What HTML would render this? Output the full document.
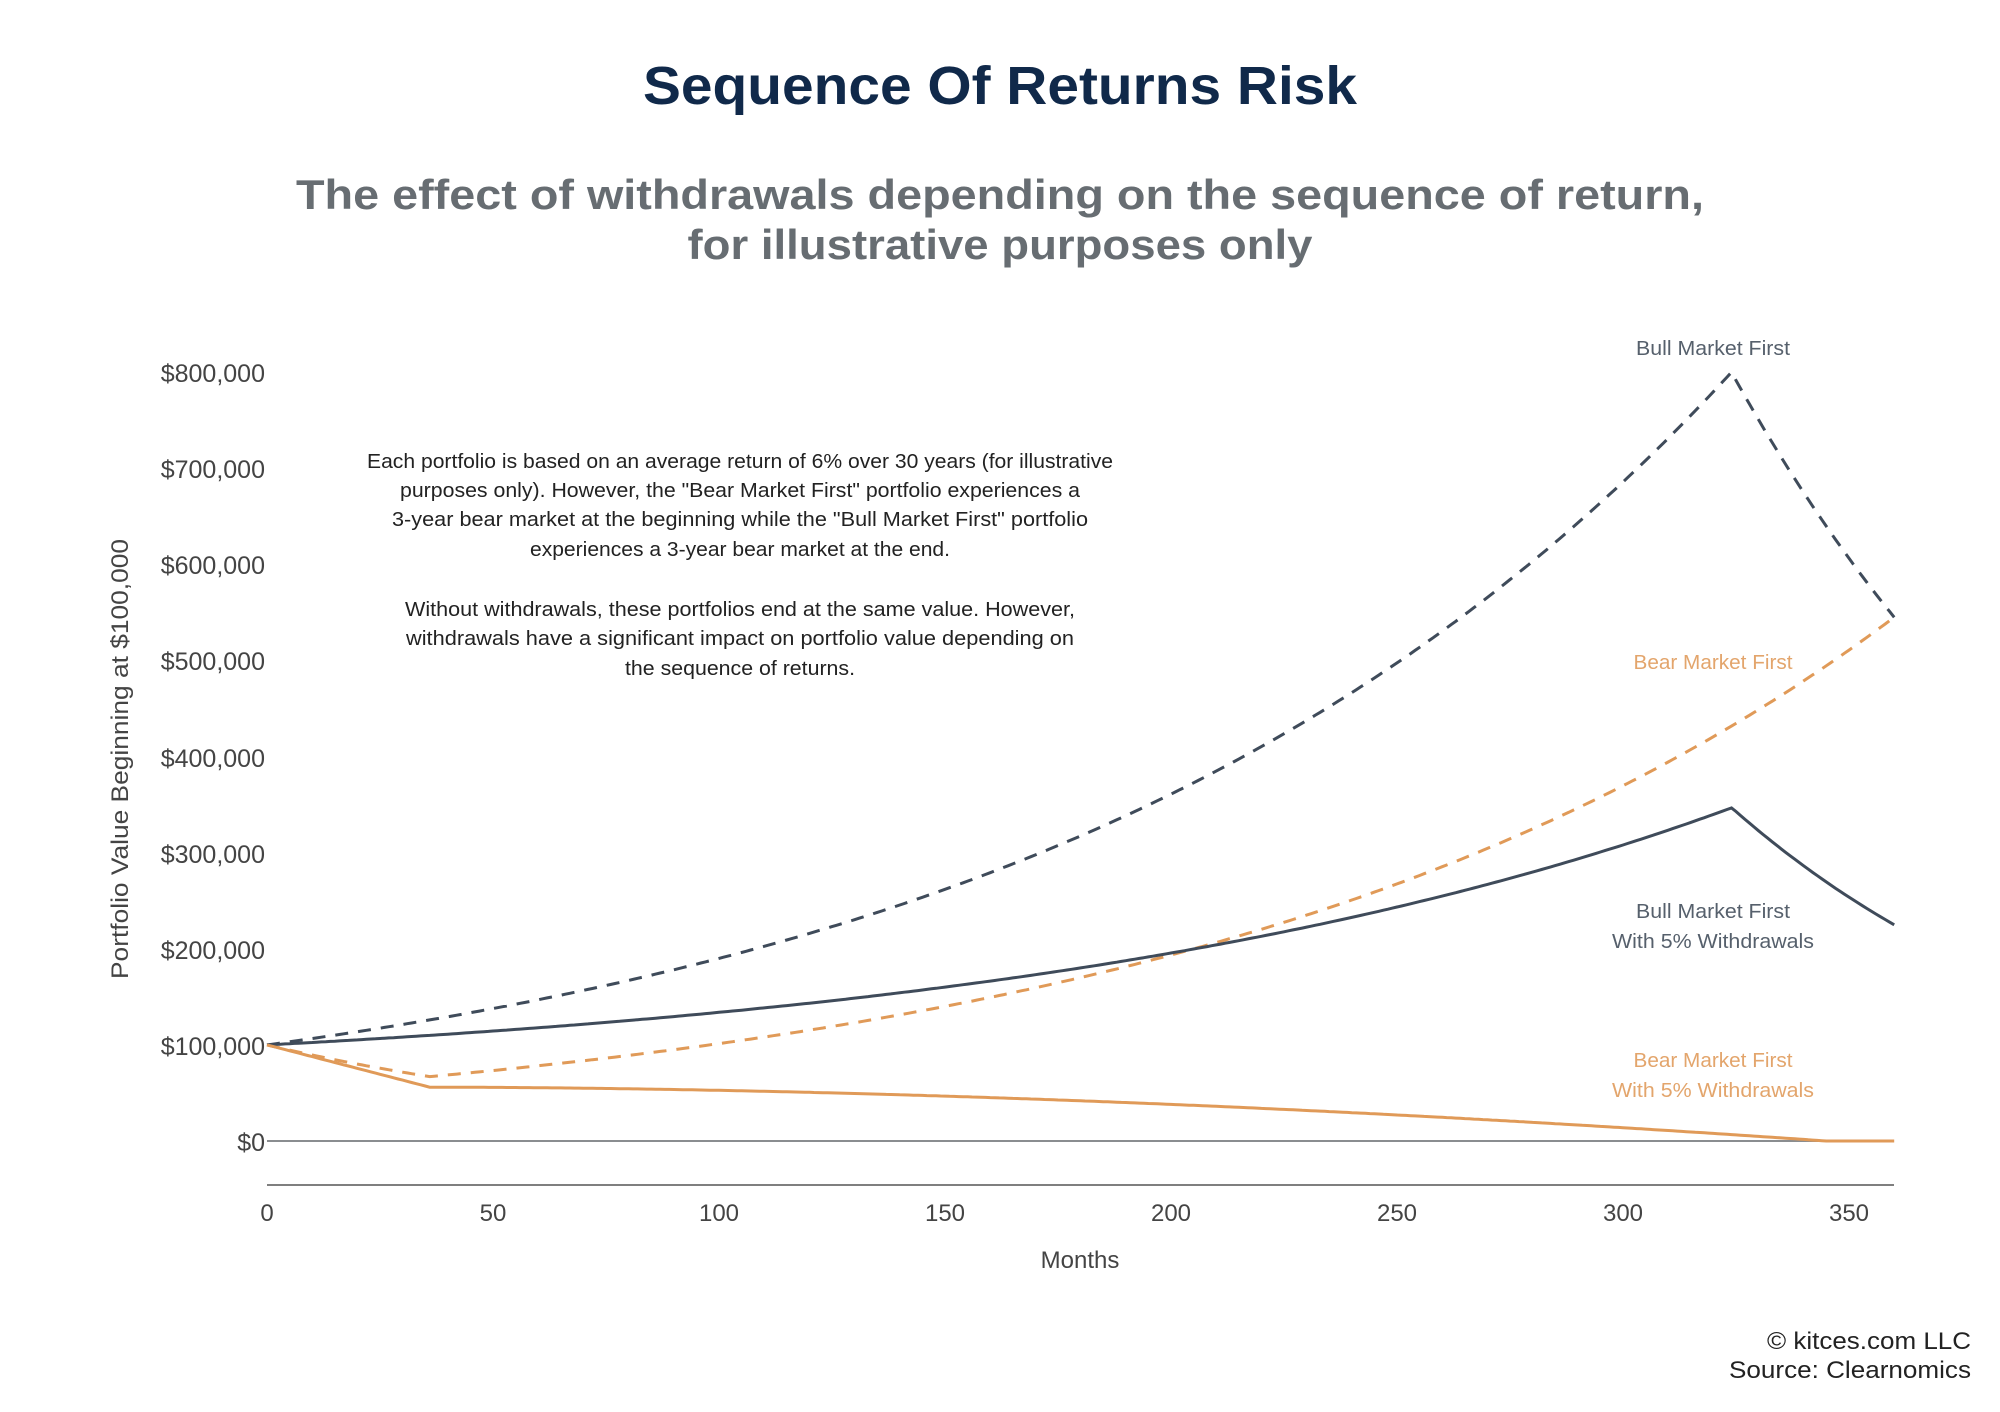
<!DOCTYPE html>
<html><head><meta charset="utf-8">
<style>
html,body{margin:0;padding:0;background:#fff;}
body{width:2000px;height:1407px;overflow:hidden;position:relative;font-family:"Liberation Sans",sans-serif;}
</style></head>
<body>
<svg id="s" width="2000" height="1407" viewBox="0 0 2000 1407" xmlns="http://www.w3.org/2000/svg" font-family="Liberation Sans, sans-serif">
<text x="1000" y="104" text-anchor="middle" font-size="54" font-weight="bold" fill="#10294a" textLength="714" lengthAdjust="spacingAndGlyphs">Sequence Of Returns Risk</text>
<text x="1000" y="209" text-anchor="middle" font-size="42" font-weight="bold" fill="#676d72" textLength="1408" lengthAdjust="spacingAndGlyphs">The effect of withdrawals depending on the sequence of return,</text>
<text x="1000" y="259" text-anchor="middle" font-size="42" font-weight="bold" fill="#676d72" textLength="625" lengthAdjust="spacingAndGlyphs">for illustrative purposes only</text>

<g font-size="25" fill="#444" text-anchor="end">
<text x="265" y="382">$800,000</text>
<text x="265" y="478">$700,000</text>
<text x="265" y="574">$600,000</text>
<text x="265" y="670">$500,000</text>
<text x="265" y="767">$400,000</text>
<text x="265" y="863">$300,000</text>
<text x="265" y="959">$200,000</text>
<text x="265" y="1055">$100,000</text>
<text x="265" y="1151">$0</text>
</g>
<text transform="translate(128,759) rotate(-90)" text-anchor="middle" font-size="24" fill="#444" textLength="440" lengthAdjust="spacingAndGlyphs">Portfolio Value Beginning at $100,000</text>

<line x1="267" y1="1141" x2="1894" y2="1141" stroke="#8a8d90" stroke-width="2"/>
<line x1="267" y1="1185" x2="1894" y2="1185" stroke="#555" stroke-width="1.5"/>
<g font-size="24" fill="#444" text-anchor="middle">
<text x="267" y="1221">0</text>
<text x="493" y="1221">50</text>
<text x="719" y="1221">100</text>
<text x="945" y="1221">150</text>
<text x="1171" y="1221">200</text>
<text x="1397" y="1221">250</text>
<text x="1623" y="1221">300</text>
<text x="1849" y="1221">350</text>
<text x="1080" y="1268">Months</text>
</g>

<g font-size="20" fill="#222" text-anchor="middle">
<text x="740" y="468" textLength="746" lengthAdjust="spacingAndGlyphs">Each portfolio is based on an average return of 6% over 30 years (for illustrative</text>
<text x="740" y="497" textLength="680" lengthAdjust="spacingAndGlyphs">purposes only). However, the "Bear Market First" portfolio experiences a</text>
<text x="740" y="526" textLength="696" lengthAdjust="spacingAndGlyphs">3-year bear market at the beginning while the "Bull Market First" portfolio</text>
<text x="740" y="556" textLength="420" lengthAdjust="spacingAndGlyphs">experiences a 3-year bear market at the end.</text>
<text x="740" y="616" textLength="670" lengthAdjust="spacingAndGlyphs">Without withdrawals, these portfolios end at the same value. However,</text>
<text x="740" y="645" textLength="668" lengthAdjust="spacingAndGlyphs">withdrawals have a significant impact on portfolio value depending on</text>
<text x="740" y="675" textLength="230" lengthAdjust="spacingAndGlyphs">the sequence of returns.</text>
</g>

<g font-size="20" text-anchor="middle">
<text x="1713" y="355" fill="#56606c" textLength="154" lengthAdjust="spacingAndGlyphs">Bull Market First</text>
<text x="1713" y="669" fill="#e3a56c" textLength="159" lengthAdjust="spacingAndGlyphs">Bear Market First</text>
<text x="1713" y="918" fill="#56606c" textLength="154" lengthAdjust="spacingAndGlyphs">Bull Market First</text>
<text x="1713" y="948" fill="#56606c" textLength="202" lengthAdjust="spacingAndGlyphs">With 5% Withdrawals</text>
<text x="1713" y="1067" fill="#e3a56c" textLength="159" lengthAdjust="spacingAndGlyphs">Bear Market First</text>
<text x="1713" y="1097" fill="#e3a56c" textLength="202" lengthAdjust="spacingAndGlyphs">With 5% Withdrawals</text>
</g>

<path id="bulld" fill="none" stroke="#3f4b5a" stroke-width="3" stroke-dasharray="13 10"/>
<path id="beard" fill="none" stroke="#e09a58" stroke-width="3" stroke-dasharray="13 10"/>
<path id="bulls" fill="none" stroke="#3f4b5a" stroke-width="3"/>
<path id="bears" fill="none" stroke="#e09a58" stroke-width="3"/>

<g font-size="24" fill="#222" text-anchor="end">
<text x="1971" y="1349" textLength="204" lengthAdjust="spacingAndGlyphs">© kitces.com LLC</text>
<text x="1971" y="1378" textLength="242" lengthAdjust="spacingAndGlyphs">Source: Clearnomics</text>
</g>
</svg>
<script>
function X(m){return 267+m*4.52;}
function Y(v){return 1141-v*0.961;}
function path(f){var d="";for(var m=0;m<=360;m+=1){d+=(m?"L":"M")+X(m).toFixed(1)+","+Y(f(m)).toFixed(1);}return d;}
document.getElementById("bulld").setAttribute("d",path(function(m){if(m<=324)return 100*Math.pow(8,m/324);return 800*Math.pow(545/800,(m-324)/36);}));
document.getElementById("beard").setAttribute("d",path(function(m){if(m<=36)return 100*Math.pow(0.67,m/36);return 67*Math.pow(545/67,(m-36)/324);}));
document.getElementById("bulls").setAttribute("d",path(function(m){if(m<=324)return 100+41.2*(Math.exp(0.006*m)-1);return 347*Math.pow(225/347,(m-324)/36);}));
document.getElementById("bears").setAttribute("d",path(function(m){if(m<=36)return 100-44*m/36;if(m>=345)return 0;var t=(m-36)/309;return 56*(1-Math.pow(t,1.8));}));
</script>
</body></html>
